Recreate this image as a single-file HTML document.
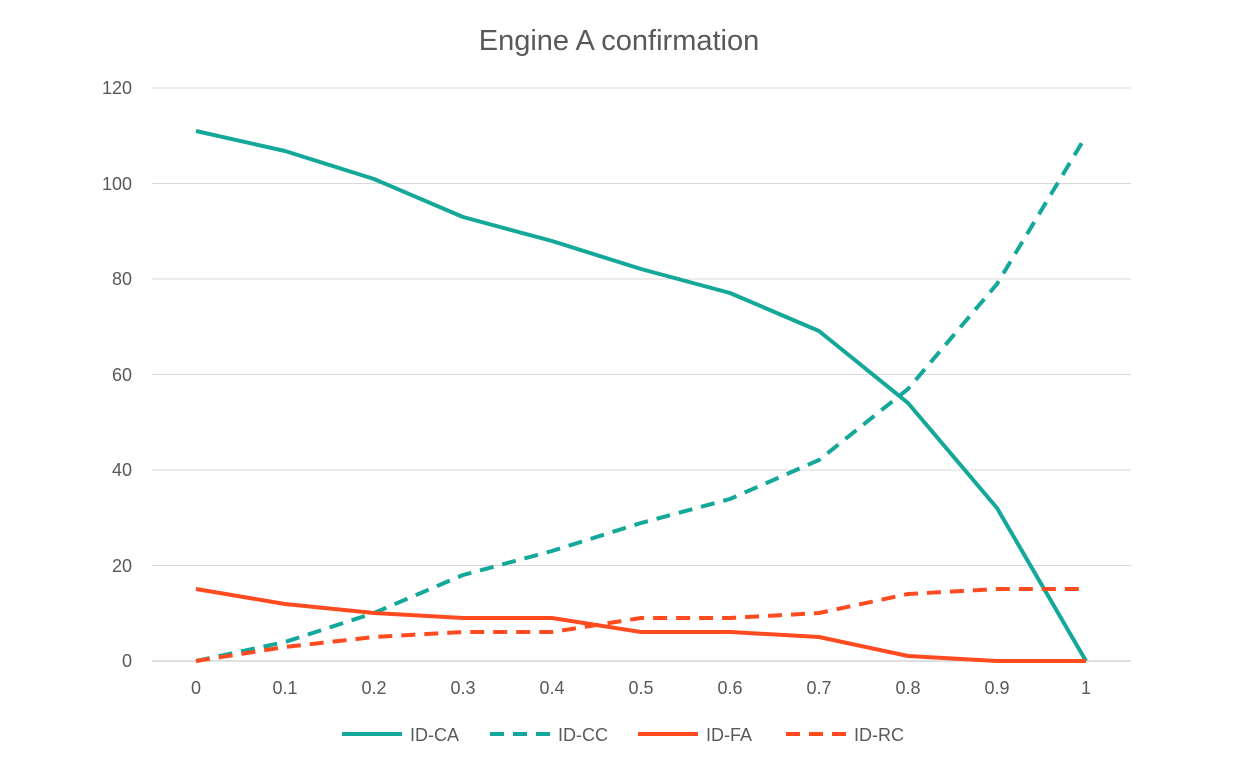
<!DOCTYPE html>
<html><head><meta charset="utf-8"><style>
body{margin:0;background:#fff;}
svg text{font-family:"Liberation Sans",sans-serif;fill:#595959;}
</style></head><body>
<svg width="1240" height="771" viewBox="0 0 1240 771" xmlns="http://www.w3.org/2000/svg">
<text x="619" y="50" font-size="29" text-anchor="middle">Engine A confirmation</text>
<g stroke="#d9d9d9" stroke-width="1">
<line x1="152" x2="1131" y1="88" y2="88"/>
<line x1="152" x2="1131" y1="183.5" y2="183.5"/>
<line x1="152" x2="1131" y1="279" y2="279"/>
<line x1="152" x2="1131" y1="374.5" y2="374.5"/>
<line x1="152" x2="1131" y1="470" y2="470"/>
<line x1="152" x2="1131" y1="565.5" y2="565.5"/>
<line x1="152" x2="1131" y1="661" y2="661" stroke="#bfbfbf"/>
</g>
<g font-size="18" text-anchor="end">
<text x="132" y="94">120</text><text x="132" y="190">100</text><text x="132" y="285">80</text>
<text x="132" y="381">60</text><text x="132" y="476">40</text><text x="132" y="572">20</text><text x="132" y="667">0</text>
</g>
<g font-size="18" text-anchor="middle">
<text x="196" y="694">0</text><text x="285" y="694">0.1</text><text x="374" y="694">0.2</text><text x="463" y="694">0.3</text><text x="552" y="694">0.4</text><text x="641" y="694">0.5</text><text x="730" y="694">0.6</text><text x="819" y="694">0.7</text><text x="908" y="694">0.8</text><text x="997" y="694">0.9</text><text x="1086" y="694">1</text>
</g>
<g fill="none" stroke-width="4" stroke-linejoin="round">
<polyline stroke="#14a89a" points="196,131 285,151 374,179 463,217 552,241 641,269 730,293 819,331 908,403 997,508 1086,661"/>
<polyline stroke="#14a89a" stroke-dasharray="14,9" points="196,661 285,642 374,613 463,575 552,551 641,523 730,499 819,460 908,389 997,284 1086,136"/>
<polyline stroke="#ff4b1f" points="196,589 285,604 374,613 463,618 552,618 641,632 730,632 819,637 908,656 997,661 1086,661"/>
<polyline stroke="#ff4b1f" stroke-dasharray="14,9" points="196,661 285,647 374,637 463,632 552,632 641,618 730,618 819,613 908,594 997,589 1086,589"/>
</g>
<g stroke-width="4">
<line x1="342" x2="402" y1="734" y2="734" stroke="#14a89a"/>
<line x1="490" x2="550" y1="734" y2="734" stroke="#14a89a" stroke-dasharray="14,9"/>
<line x1="638" x2="698" y1="734" y2="734" stroke="#ff4b1f"/>
<line x1="786" x2="846" y1="734" y2="734" stroke="#ff4b1f" stroke-dasharray="14,9"/>
</g>
<g font-size="18">
<text x="410" y="741">ID-CA</text><text x="558" y="741">ID-CC</text><text x="706" y="741">ID-FA</text><text x="854" y="741">ID-RC</text>
</g>
</svg>
</body></html>
